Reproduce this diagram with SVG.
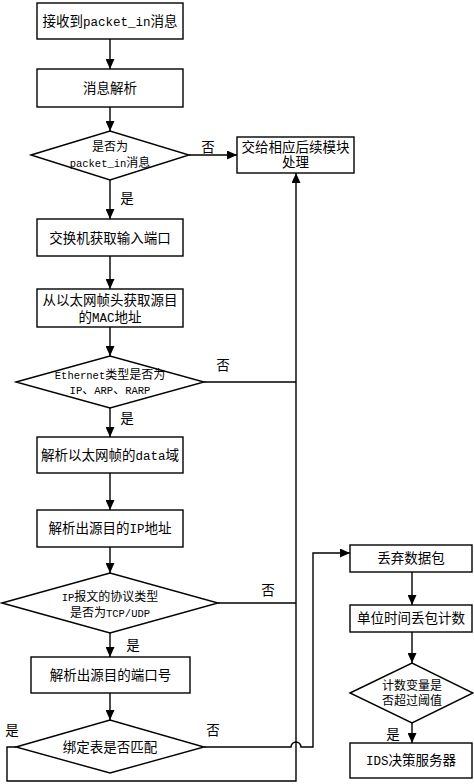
<svg xmlns="http://www.w3.org/2000/svg" width="474" height="784" viewBox="0 0 474 784">
<style>
.box{fill:#fff;stroke:#000;stroke-width:1.4}
.ln{fill:none;stroke:#000;stroke-width:1.4}
.t{font-family:"Liberation Serif","Noto Sans CJK SC",serif;font-size:13.5px;fill:#000;text-anchor:middle}
.s{font-size:12px}
.m{font-family:"Liberation Mono","Noto Sans CJK SC",monospace;font-size:12.5px}
.ms{font-family:"Liberation Mono","Noto Sans CJK SC",monospace;font-size:10.5px}
</style>
<defs>
<marker id="ah" markerUnits="userSpaceOnUse" markerWidth="10" markerHeight="9" refX="10" refY="4.5" orient="auto">
<path d="M0,0 L10,4.5 L0,9 z" fill="#000"/>
</marker>
</defs>
<rect width="474" height="784" fill="#fff"/>

<g id="connectors">
<line class="ln" x1="110" y1="39" x2="110" y2="69" marker-end="url(#ah)"/>
<line class="ln" x1="110" y1="107" x2="110" y2="131" marker-end="url(#ah)"/>
<line class="ln" x1="110" y1="180" x2="110" y2="219" marker-end="url(#ah)"/>
<line class="ln" x1="110" y1="256" x2="110" y2="289" marker-end="url(#ah)"/>
<line class="ln" x1="110" y1="327" x2="110" y2="356" marker-end="url(#ah)"/>
<line class="ln" x1="110" y1="408" x2="110" y2="437" marker-end="url(#ah)"/>
<line class="ln" x1="110" y1="473" x2="110" y2="510" marker-end="url(#ah)"/>
<line class="ln" x1="110" y1="547" x2="110" y2="573" marker-end="url(#ah)"/>
<line class="ln" x1="110" y1="633" x2="110" y2="657" marker-end="url(#ah)"/>
<line class="ln" x1="110" y1="693" x2="110" y2="720" marker-end="url(#ah)"/>
<line class="ln" x1="189" y1="155" x2="237" y2="155" marker-end="url(#ah)"/>
<line class="ln" x1="204" y1="382" x2="296" y2="382"/>
<line class="ln" x1="218" y1="603" x2="296" y2="603"/>
<polyline class="ln" points="16,747 7,747 7,781 296,781 296,173" marker-end="url(#ah)"/>
<path class="ln" d="M204,747 H291 A5,5 0 0 1 301,747 H313 V553 H350" marker-end="url(#ah)"/>
<line class="ln" x1="412" y1="572" x2="412" y2="605" marker-end="url(#ah)"/>
<line class="ln" x1="412" y1="632" x2="412" y2="663" marker-end="url(#ah)"/>
<line class="ln" x1="412" y1="723" x2="412" y2="743" marker-end="url(#ah)"/>
<text class="t" x="208" y="152">否</text>
<text class="t" x="127" y="203">是</text>
<text class="t" x="223" y="370">否</text>
<text class="t" x="127" y="423">是</text>
<text class="t" x="268" y="595">否</text>
<text class="t" x="133" y="650">是</text>
<text class="t" x="12" y="735">是</text>
<text class="t" x="213" y="735">否</text>
<text class="t" x="393" y="739">是</text>
</g>

<g id="n1"><rect class="box" x="37" y="3" width="146" height="36"/>
<text class="t" x="110" y="26">接收到<tspan class="m">packet_in</tspan>消息</text></g>
<g id="n2"><rect class="box" x="37" y="69" width="146" height="38"/>
<text class="t" x="110" y="93">消息解析</text></g>
<g id="d1"><polygon class="box" points="31,155 110,131 189,155 110,180"/>
<text class="t s" x="110" y="151">是否为</text>
<text class="t s" x="110" y="167"><tspan class="ms">packet_in</tspan>消息</text></g>
<g id="n3"><rect class="box" x="237" y="137" width="117" height="36"/>
<text class="t" x="295.5" y="152">交给相应后续模块</text>
<text class="t" x="295.5" y="167">处理</text></g>
<g id="n4"><rect class="box" x="37" y="219" width="146" height="37"/>
<text class="t" x="110" y="243">交换机获取输入端口</text></g>
<g id="n5"><rect class="box" x="37" y="289" width="146" height="38"/>
<text class="t" x="110" y="305">从以太网帧头获取源目</text>
<text class="t" x="110" y="322">的<tspan class="m">MAC</tspan>地址</text></g>
<g id="d2"><polygon class="box" points="16,382 110,356 204,382 110,408"/>
<text class="t s" x="110" y="379"><tspan class="ms">Ethernet</tspan>类型是否为</text>
<text class="t s" x="110" y="394"><tspan class="ms">IP</tspan>、<tspan class="ms">ARP</tspan>、<tspan class="ms">RARP</tspan></text></g>
<g id="n6"><rect class="box" x="37" y="437" width="146" height="36"/>
<text class="t" x="110" y="460">解析以太网帧的<tspan class="m">data</tspan>域</text></g>
<g id="n7"><rect class="box" x="37" y="510" width="146" height="37"/>
<text class="t" x="110" y="533">解析出源目的<tspan class="m">IP</tspan>地址</text></g>
<g id="d3"><polygon class="box" points="2,603 110,573 218,603 110,633"/>
<text class="t s" x="110" y="601"><tspan class="ms">IP</tspan>报文的协议类型</text>
<text class="t s" x="110" y="617">是否为<tspan class="ms">TCP/UDP</tspan></text></g>
<g id="n8"><rect class="box" x="31" y="657" width="159" height="36"/>
<text class="t" x="110.5" y="680">解析出源目的端口号</text></g>
<g id="d4"><polygon class="box" points="16,747 110,720 204,747 110,773"/>
<text class="t" x="110" y="752">绑定表是否匹配</text></g>
<g id="n9"><rect class="box" x="350" y="545" width="122" height="27"/>
<text class="t" x="411" y="563">丢弃数据包</text></g>
<g id="n10"><rect class="box" x="350" y="605" width="122" height="27"/>
<text class="t" x="411" y="623">单位时间丢包计数</text></g>
<g id="d5"><polygon class="box" points="350,693 412,663 473,693 412,723"/>
<text class="t s" x="412" y="690">计数变量是</text>
<text class="t s" x="412" y="705">否超过阈值</text></g>
<g id="n11"><rect class="box" x="350" y="743" width="122" height="35"/>
<text class="t" x="411" y="765"><tspan class="m">IDS</tspan>决策服务器</text></g>
</svg>
